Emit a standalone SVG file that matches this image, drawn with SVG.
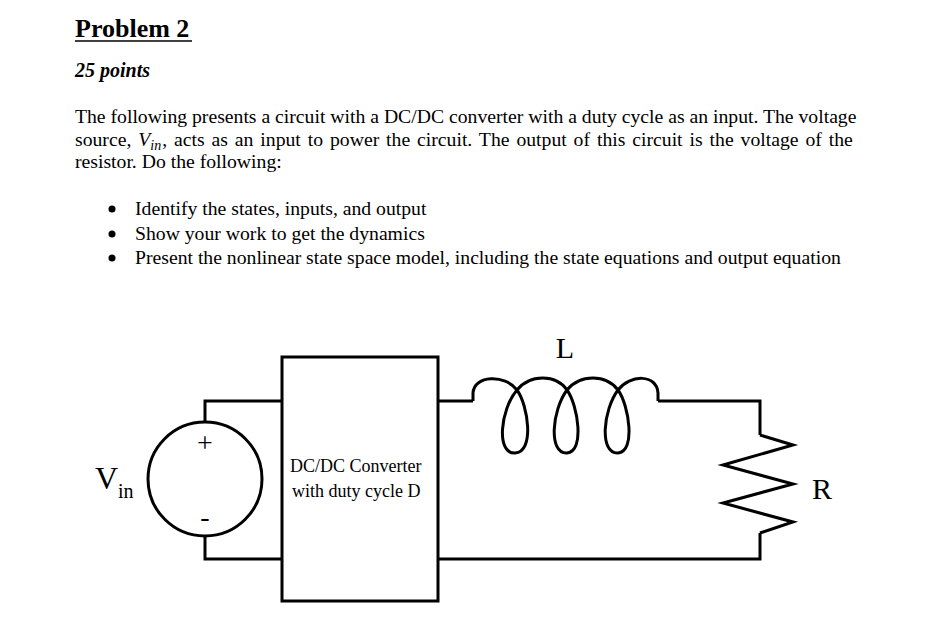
<svg xmlns="http://www.w3.org/2000/svg" width="933" height="643" viewBox="0 0 933 643">
<style>
text{font-family:"Liberation Serif","Times New Roman",serif;fill:#000}
.w{fill:none;stroke:#000;stroke-width:3;stroke-linejoin:miter}
.p{font-size:19.7px}
</style>
<rect width="933" height="643" fill="#fff"/>
<text x="75" y="37" font-size="26" font-weight="bold">Problem 2</text>
<line x1="75" y1="41" x2="192" y2="41" stroke="#000" stroke-width="1.5"/>
<text x="75" y="77" font-size="20" font-weight="bold" font-style="italic">25 points</text>
<text class="p" x="75" y="123">The following presents a circuit with a DC/DC converter with a duty cycle as an input. The voltage</text>
<text class="p" x="75" y="146" word-spacing="2">source, <tspan font-style="italic">V</tspan><tspan font-style="italic" font-size="14" dy="4">in</tspan><tspan dy="-4" dx="1">, acts as an input to power the circuit. The output of this circuit is the voltage of the</tspan></text>
<text class="p" x="75" y="168">resistor. Do the following:</text>
<g class="p">
<circle cx="112" cy="209" r="3.5"/><text x="135" y="215">Identify the states, inputs, and output</text>
<circle cx="112" cy="234" r="3.5"/><text x="135" y="240">Show your work to get the dynamics</text>
<circle cx="112" cy="258" r="3.5"/><text x="135" y="264">Present the nonlinear state space model, including the state equations and output equation</text>
</g>
<g id="connectors">
<path class="w" d="M205,422 V401 H282"/>
<path class="w" d="M205,536 V559 H282"/>
<path class="w" d="M438,401 H473"/>
<path class="w" d="M658,401 H760 V435"/>
<path class="w" d="M760,533 V559 H438"/>
</g>
<g id="source">
<circle class="w" cx="205" cy="479" r="57"/>
<text x="205" y="452" font-size="28" text-anchor="middle">+</text>
<text x="205" y="526" font-size="28" text-anchor="middle">-</text>
<text x="95" y="489" font-size="32">V</text>
<text x="118" y="498" font-size="20">in</text>
</g>
<g id="converter">
<rect class="w" x="282" y="357" width="156" height="244"/>
<text x="290" y="472" font-size="18">DC/DC Converter</text>
<text x="292" y="497" font-size="18">with duty cycle D</text>
</g>
<g id="inductor">
<path class="w" d="M473,401 V393 C474,375 505,374 517,390 C528,405 535,452 515,453 C496,454 500,410 517,390 C530,374 556,374 567,390 C578,405 585,452 567,453 C548,454 552,410 567,390 C580,374 606,374 618,390 C629,405 636,452 618,453 C599,454 603,410 618,390 C630,374 657,374 658,393 V401"/>
<text x="565" y="358" font-size="30" text-anchor="middle">L</text>
</g>
<g id="resistor">
<path class="w" d="M760,435 L793,445 L723,465 L793,484 L723,503 L793,522 L760,533"/>
<text x="812" y="499" font-size="30">R</text>
</g>
</svg>
